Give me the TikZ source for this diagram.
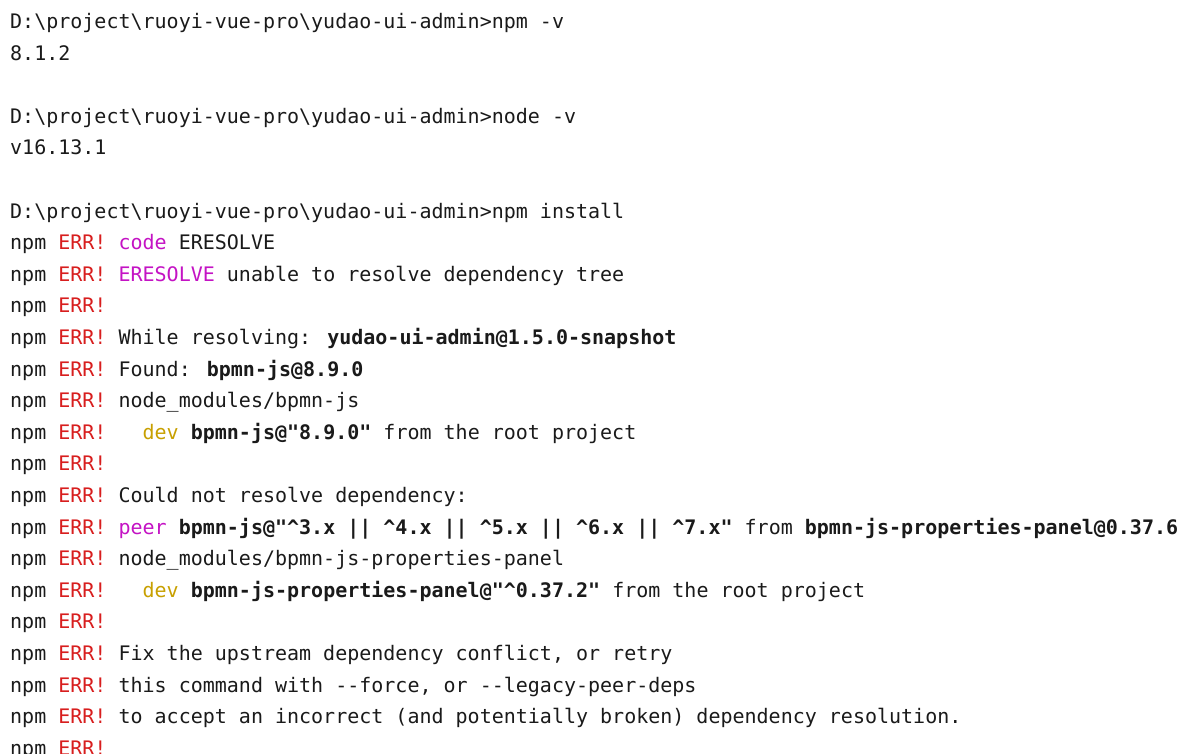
\documentclass[tikz,border=0pt]{standalone}
\usepackage{fontspec}
\newfontfamily\term{DejaVu Sans Mono}
\definecolor{errc}{HTML}{D81E1E}
\definecolor{magc}{HTML}{C413C4}
\definecolor{devc}{HTML}{C8A000}
\definecolor{txt}{HTML}{1A1A1A}
\newcommand{\E}{\textcolor{errc}{ERR!}}
\newcommand{\bs}{\textbackslash}
\newcommand{\ca}{\textasciicircum}
\begin{document}
\begin{tikzpicture}[x=1pt,y=1pt,ln/.style={anchor=base west,inner sep=0pt,font=\term\fontsize{20}{24}\selectfont,text=txt}]
\fill[white] (0,0) rectangle (1196,754);
\useasboundingbox (0,0) rectangle (1196,754);
\def\P{D:\bs project\bs ruoyi-vue-pro\bs yudao-ui-admin>}
\def\B{754-28.5}
\node[ln] (l0) at (10,{\B}) {\P npm -v};
\node[ln] (l1) at (10,{\B-1*31.6}) {8.1.2};
\node[ln] (l3) at (10,{\B-3*31.6}) {\P node -v};
\node[ln] (l4) at (10,{\B-4*31.6}) {v16.13.1};
\node[ln] (l6) at (10,{\B-6*31.6}) {\P npm install};
\node[ln] (l7) at (10,{\B-7*31.6}) {npm \E{} \textcolor{magc}{code} ERESOLVE};
\node[ln] (l8) at (10,{\B-8*31.6}) {npm \E{} \textcolor{magc}{ERESOLVE} unable to resolve dependency tree};
\node[ln] (l9) at (10,{\B-9*31.6}) {npm \E};
\node[ln] (l10) at (10,{\B-10*31.6}) {npm \E{} While resolving: \textbf{yudao-ui-admin@1.5.0-snapshot}};
\node[ln] (l11) at (10,{\B-11*31.6}) {npm \E{} Found: \textbf{bpmn-js@8.9.0}};
\node[ln] (l12) at (10,{\B-12*31.6}) {npm \E{} node\_modules/bpmn-js};
\node[ln] (l13) at (10,{\B-13*31.6}) {npm \E{}\ \ \ \textcolor{devc}{dev} \textbf{bpmn-js@"8.9.0"} from the root project};
\node[ln] (l14) at (10,{\B-14*31.6}) {npm \E};
\node[ln] (l15) at (10,{\B-15*31.6}) {npm \E{} Could not resolve dependency:};
\node[ln] (l16) at (10,{\B-16*31.6}) {npm \E{} \textcolor{magc}{peer} \textbf{bpmn-js@"\ca3.x || \ca4.x || \ca5.x || \ca6.x || \ca7.x"} from \textbf{bpmn-js-properties-panel@0.37.6}};
\node[ln] (l17) at (10,{\B-17*31.6}) {npm \E{} node\_modules/bpmn-js-properties-panel};
\node[ln] (l18) at (10,{\B-18*31.6}) {npm \E{}\ \ \ \textcolor{devc}{dev} \textbf{bpmn-js-properties-panel@"\ca0.37.2"} from the root project};
\node[ln] (l19) at (10,{\B-19*31.6}) {npm \E};
\node[ln] (l20) at (10,{\B-20*31.6}) {npm \E{} Fix the upstream dependency conflict, or retry};
\node[ln] (l21) at (10,{\B-21*31.6}) {npm \E{} this command with -{}-force, or -{}-legacy-peer-deps};
\node[ln] (l22) at (10,{\B-22*31.6}) {npm \E{} to accept an incorrect (and potentially broken) dependency resolution.};
\node[ln] (l23) at (10,{\B-23*31.6}) {npm \E};
\end{tikzpicture}
\end{document}
